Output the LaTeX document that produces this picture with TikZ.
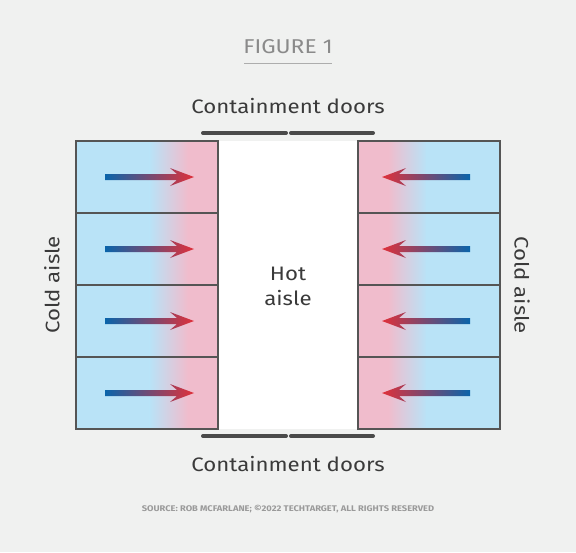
\documentclass[tikz,border=0pt]{standalone}
\usepackage{fontspec}
\setmainfont[FakeStretch=1.14]{Fira Sans}
\begin{document}
\begin{tikzpicture}[x=1pt,y=-1pt,
  rackline/.style={draw=rackgray,line width=2.4pt},
  doorbar/.style={draw=doorgray,line width=4pt,line cap=round},
  lbl/.style={text=txtgray,font=\fontsize{19.5}{22}\selectfont,inner sep=0pt},
]
\definecolor{bg}{HTML}{F0F1F0}
\definecolor{coldc}{HTML}{B9E3F7}
\definecolor{hotc}{HTML}{F0BCCC}
\definecolor{rackgray}{HTML}{555555}
\definecolor{doorgray}{HTML}{4A4A4A}
\definecolor{txtgray}{HTML}{3A3A3A}
\definecolor{figgray}{HTML}{8A8A8A}
\definecolor{srcgray}{HTML}{9A9A9A}
\definecolor{arrblue}{HTML}{0A64AA}
\definecolor{arrred}{HTML}{E0303A}
\useasboundingbox (0,0) rectangle (576,552);
\fill[bg] (0,0) rectangle (576,552);
% hot aisle
\fill[white] (218,141) rectangle (358,429);
% left rack fills
\fill[coldc] (76,141) rectangle (150,429);
\shade[left color=coldc,right color=hotc] (149.5,141) rectangle (188,429);
\fill[hotc] (187.5,141) rectangle (218,429);
% right rack fills
\fill[hotc] (358,141) rectangle (388.5,429);
\shade[left color=hotc,right color=coldc] (388,141) rectangle (426.5,429);
\fill[coldc] (426,141) rectangle (500,429);
% rack outlines
\foreach \xa/\xb in {76/218,358/500}{
  \draw[rackline] (\xa,141) rectangle (\xb,429);
  \foreach \yy in {213,285,357}{\draw[rackline] (\xa,\yy) -- (\xb,\yy);}
}
% arrows
\foreach \yc in {177,249,321,393}{
  \shade[left color=arrblue,right color=arrred]
    (105,\yc-3) -- (177,\yc-3) -- (170,\yc-9) -- (194,\yc) -- (170,\yc+9) -- (177,\yc+3) -- (105,\yc+3) -- cycle;
  \shade[left color=arrred,right color=arrblue]
    (470,\yc-3) -- (399,\yc-3) -- (406,\yc-9) -- (382,\yc) -- (406,\yc+9) -- (399,\yc+3) -- (470,\yc+3) -- cycle;
}
% doors
\coordinate (td1a) at (203,133); \coordinate (td1b) at (286,133);
\coordinate (td2a) at (291,133); \coordinate (td2b) at (373,133);
\coordinate (bd1a) at (203,436); \coordinate (bd1b) at (286,436);
\coordinate (bd2a) at (291,436); \coordinate (bd2b) at (373,436);
\draw[doorbar] (td1a) -- (td1b);
\draw[doorbar] (td2a) -- (td2b);
\draw[doorbar] (bd1a) -- (bd1b);
\draw[doorbar] (bd2a) -- (bd2b);
% texts
\node[text=figgray,font=\fontsize{20}{22}\selectfont,inner sep=0pt] (fig) at (288,47) {FIGURE 1};
\draw[draw=figgray!70,line width=1pt] (244,63) -- (332,63);
\node[lbl] (ctop) at (288,106) {Containment doors};
\node[lbl] (cbot) at (288,464) {Containment doors};
\node[lbl,align=center,font=\fontsize{19.5}{25}\selectfont] (hot) at (288,286) {Hot\\aisle};
\node[lbl,rotate=90] (coldl) at (52,285) {Cold aisle};
\node[lbl,rotate=-90] (coldr) at (522,285) {Cold aisle};
\node[text=srcgray,font=\fontsize{8.2}{9}\selectfont\bfseries,inner sep=0pt] (src) at (288,509) {SOURCE: ROB MCFARLANE; ©2022 TECHTARGET, ALL RIGHTS RESERVED};
\end{tikzpicture}
\end{document}
